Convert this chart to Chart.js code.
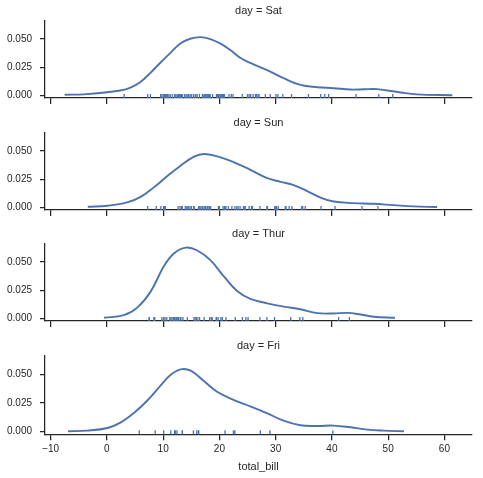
<!DOCTYPE html>
<html>
<head>
<meta charset="utf-8">
<script src="https://cdn.jsdelivr.net/npm/chart.js@4.4.1/dist/chart.umd.min.js"></script>
<style>
  html, body { margin: 0; padding: 0; background: #fff; }
  #wrap { position: relative; width: 483px; height: 478px; overflow: hidden; }
  canvas { position: absolute; left: 0; }
</style>
</head>
<body>
<div id="wrap"></div>
<script>
const days = ["Sat", "Sun", "Thur", "Fri"];
const xTicks = [-10, 0, 10, 20, 30, 40, 50, 60];
const yTicks = [0, 0.025, 0.05];

// rug values (total_bill)
const satBills = [3.07, 7.25, 7.74, 9.55, 9.78, 10.07, 10.29, 10.33, 10.34, 10.51, 10.59, 10.77, 11.02, 11.24, 11.61, 12.03, 12.26, 12.48, 12.69, 12.76, 12.9, 13.0, 13.13, 13.28, 13.42, 13.81, 14.07, 14.26, 14.52, 14.78, 15.01, 15.36, 15.69, 15.81, 16.04, 16.45, 16.99, 17.07, 17.29, 17.47, 17.59, 17.78, 17.82, 18.04, 18.24, 18.35, 18.78, 19.49, 19.65, 19.77, 19.81, 20.08, 20.23, 20.29, 20.45, 20.53, 20.65, 20.69, 20.76, 20.9, 21.7, 22.12, 22.42, 24.06, 25.0, 25.28, 25.56, 26.0, 26.41, 26.59, 26.88, 27.05, 28.17, 29.03, 30.06, 30.4, 31.27, 32.83, 35.83, 38.01, 38.73, 39.42, 44.3, 48.33, 50.81];
const sunBills = [7.25, 8.77, 9.6, 10.07, 10.29, 10.33, 10.34, 12.66, 13.0, 13.27, 13.37, 13.39, 13.94, 14.07, 14.26, 14.48, 14.78, 15.04, 15.42, 15.53, 16.29, 16.31, 16.4, 16.58, 16.93, 16.97, 17.26, 17.46, 17.51, 17.81, 17.92, 18.15, 18.29, 18.43, 19.82, 20.0, 20.65, 20.9, 21.01, 21.16, 21.58, 22.23, 22.76, 23.1, 23.33, 23.68, 24.27, 24.55, 24.59, 25.29, 25.71, 25.89, 27.2, 28.44, 28.55, 29.85, 29.93, 30.14, 30.46, 31.71, 31.85, 32.4, 32.9, 34.63, 34.81, 35.26, 38.07, 40.55, 45.35, 48.17];
const thurBills = [7.51, 7.56, 8.35, 8.51, 9.78, 10.07, 10.34, 10.65, 11.17, 11.38, 11.59, 11.87, 12.03, 12.26, 12.43, 12.6, 12.74, 13.03, 13.16, 13.51, 14.31, 15.48, 15.69, 15.98, 16.0, 16.43, 16.47, 17.29, 18.26, 18.28, 18.64, 18.71, 19.44, 19.49, 19.77, 20.27, 20.53, 21.16, 22.82, 24.08, 24.71, 25.1, 27.2, 28.44, 29.8, 32.68, 34.3, 34.83, 41.19, 43.11];
const friBills = [5.75, 8.58, 10.09, 11.35, 12.03, 12.16, 12.46, 13.42, 13.42, 15.38, 15.98, 16.27, 16.32, 21.01, 22.49, 22.75, 27.28, 28.97, 40.17];

// density curves
const satCurveX = [-7.5, -4.1, -1.2, 2.4, 4.2, 5.9, 7.7, 9.5, 11.3, 13.0, 14.8, 16.6, 18.4, 20.2, 22.0, 23.7, 25.5, 28.5, 31.5, 34.4, 37.4, 40.3, 43.3, 45.7, 48.0, 52.2, 55.1, 61.4];
const satCurveY = [0.0006, 0.0009, 0.0021, 0.0044, 0.0070, 0.0117, 0.0198, 0.029, 0.0378, 0.0459, 0.0503, 0.0517, 0.050, 0.0459, 0.040, 0.0334, 0.0288, 0.0224, 0.0151, 0.0093, 0.0073, 0.0064, 0.0052, 0.0054, 0.0056, 0.0026, 0.0009, 0.0002];
const sunCurveX = [-3.4, 0.1, 3.6, 6.0, 8.4, 10.7, 13.1, 15.5, 17.2, 19.6, 22.6, 25.5, 28.5, 30.9, 33.2, 35.6, 38.0, 40.3, 43.9, 47.4, 51.0, 54.5, 58.7];
const sunCurveY = [0.0006, 0.0015, 0.0044, 0.0093, 0.018, 0.0276, 0.037, 0.045, 0.0474, 0.0453, 0.040, 0.0334, 0.026, 0.0227, 0.0198, 0.0145, 0.0087, 0.0052, 0.0038, 0.0032, 0.002, 0.0009, 0.0003];
const thurCurveX = [-0.5, 3.0, 5.4, 7.8, 10.1, 11.9, 14.0, 16.0, 18.4, 20.8, 23.2, 25.5, 28.5, 31.4, 34.4, 37.4, 40.3, 42.7, 45.1, 47.4, 51.2];
const thurCurveY = [0.0006, 0.0029, 0.0096, 0.024, 0.046, 0.0576, 0.0628, 0.0605, 0.0517, 0.0372, 0.0241, 0.0174, 0.0134, 0.0105, 0.0081, 0.0047, 0.0044, 0.0049, 0.0035, 0.0015, 0.0006];
const friCurveX = [-6.9, -3.5, 0.1, 2.4, 4.8, 7.2, 9.5, 11.3, 13.1, 14.9, 17.2, 19.6, 22.6, 25.5, 28.5, 31.4, 34.4, 37.4, 40.3, 43.3, 46.3, 49.2, 52.8];
const friCurveY = [0.0003, 0.0009, 0.0032, 0.0079, 0.0163, 0.0272, 0.040, 0.0494, 0.0544, 0.0532, 0.0444, 0.0348, 0.0275, 0.022, 0.016, 0.0096, 0.0056, 0.005, 0.0053, 0.0038, 0.0018, 0.0009, 0.0003];

const bills = [satBills, sunBills, thurBills, friBills];
const curvesX = [satCurveX, sunCurveX, thurCurveX, friCurveX];
const curvesY = [satCurveY, sunCurveY, thurCurveY, friCurveY];

const blue = "#4c72b0";
const ink = "#262626";
const xMin = -11.0, xMax = 64.9;
const yMin = -0.0023, yMax = 0.0663;
const rugY = yMin + 0.00175;

Chart.defaults.font.family = "'Liberation Sans', Arial, sans-serif";
Chart.defaults.color = ink;

const wrap = document.querySelector("#wrap");

days.forEach((day, i) => {
  const last = i === days.length - 1;
  const h = last ? 144 : 112;
  const canvas = document.createElement("canvas");
  canvas.width = 483;
  canvas.height = h;
  canvas.style.top = (i * 111.5) + "px";
  canvas.style.width = "483px";
  canvas.style.height = h + "px";
  wrap.appendChild(canvas);

  const curve = curvesX[i].map((x, k) => ({ x: x, y: curvesY[i][k] }));
  const rug = bills[i].map((b) => ({ x: b, y: rugY }));

  new Chart(canvas, {
    type: "line",
    data: {
      datasets: [
        {
          data: curve,
          borderColor: blue,
          borderWidth: 1.9,
          pointRadius: 0,
          tension: 0.4,
          fill: false,
        },
        {
          data: rug,
          showLine: false,
          pointStyle: "line",
          pointRotation: 90,
          pointRadius: 2,
          pointBorderWidth: 1.3,
          pointBorderColor: blue,
          pointBackgroundColor: blue,
          clip: false,
        },
      ],
    },
    options: {
      responsive: false,
      animation: false,
      layout: { padding: { left: 0, right: 11, top: 0, bottom: 0 } },
      plugins: {
        legend: { display: false },
        tooltip: { enabled: false },
        title: {
          display: true,
          text: "day = " + day,
          fullSize: false,
          color: ink,
          font: { size: 11, weight: "normal", lineHeight: 1.2 },
          padding: { top: 4, bottom: 3.5 },
        },
      },
      scales: {
        x: {
          type: "linear",
          min: xMin,
          max: xMax,
          afterBuildTicks: (scale) => {
            scale.ticks = xTicks.map((v) => ({ value: v }));
          },
          afterFit: (scale) => {
            scale.height = h - 99.3;
          },
          border: { display: true, color: ink, width: 1.25 },
          grid: {
            display: true,
            drawOnChartArea: false,
            drawTicks: true,
            tickLength: 6,
            color: ink,
            lineWidth: 1.25,
          },
          ticks: {
            display: last,
            maxRotation: 0,
            padding: 3,
            font: { size: 10 },
            callback: (v) => (v < 0 ? "\u2212" + Math.abs(v) : String(v)),
          },
          title: {
            display: last,
            text: "total_bill",
            color: ink,
            font: { size: 11, lineHeight: 1.2 },
            padding: { top: 0, bottom: 5.9 },
          },
        },
        y: {
          type: "linear",
          min: yMin,
          max: yMax,
          afterBuildTicks: (scale) => {
            scale.ticks = yTicks.map((v) => ({ value: v }));
          },
          afterFit: (scale) => {
            scale.width = 45;
          },
          border: { display: true, color: ink, width: 1.25 },
          grid: {
            display: true,
            drawOnChartArea: false,
            drawTicks: true,
            tickLength: 5,
            color: ink,
            lineWidth: 1.25,
          },
          ticks: {
            padding: 8,
            font: { size: 10 },
            callback: (v) => v.toFixed(3),
          },
        },
      },
    },
  });
});
</script>
</body>
</html>
